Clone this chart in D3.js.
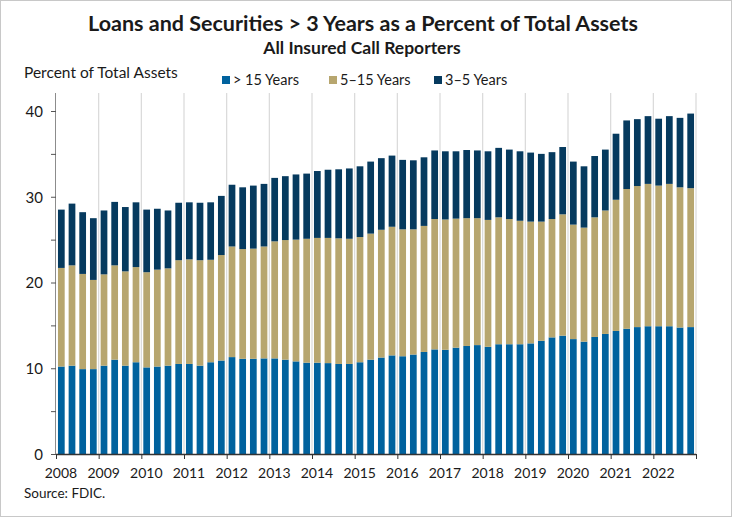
<!DOCTYPE html>
<html>
<head>
<meta charset="utf-8">
<script src="https://cdn.jsdelivr.net/npm/d3@7"></script>
<style>
  html, body { margin: 0; padding: 0; background: #fff; }
  svg { display: block; }
  text { font-family: Lato, "Open Sans", sans-serif; fill: #1a1a1a; }
</style>
</head>
<body>
<svg id="chart" width="732" height="517"></svg>
<script>
// ---------- DATA ----------
const years = ["2008","2009","2010","2011","2012","2013","2014","2015","2016","2017","2018","2019","2020","2021","2022"];
const quarters = years.flatMap(y => ["Q1","Q2","Q3","Q4"].map(q => y + q));

const seriesNames = ["> 15 Years", "5\u201315 Years", "3\u20135 Years"];

const over15 = [10.2,10.3,9.9,9.9, 10.3,11.0,10.3,10.7, 10.1,10.2,10.3,10.5, 10.5,10.3,10.7,10.9,
  11.3,11.1,11.1,11.15, 11.15,11.0,10.8,10.65, 10.65,10.6,10.5,10.5, 10.7,11.0,11.25,11.5,
  11.4,11.6,11.9,12.2, 12.15,12.4,12.6,12.7, 12.5,12.8,12.8,12.8, 12.9,13.2,13.6,13.8,
  13.4,13.1,13.65,14.0, 14.35,14.6,14.8,14.9, 14.9,14.9,14.75,14.8];
const y5to15 = [11.5,11.7,11.1,10.4, 10.65,11.0,11.0,11.1, 11.1,11.3,11.35,12.1, 12.2,12.3,11.95,12.3,
  12.9,12.8,12.85,13.05, 13.65,13.95,14.2,14.45, 14.55,14.6,14.65,14.6, 14.6,14.7,14.9,15.0,
  14.8,14.6,14.7,15.2, 15.2,15.05,14.9,14.8, 14.8,14.8,14.6,14.4, 14.2,13.9,13.8,14.15,
  13.35,13.3,13.95,14.4, 15.3,16.3,16.45,16.6, 16.4,16.6,16.35,16.2];
const y3to5 = [6.8,7.2,7.2,7.2, 7.45,7.4,7.5,7.55, 7.3,7.1,6.75,6.7, 6.65,6.7,6.7,6.9,
  7.2,7.2,7.35,7.3, 7.4,7.45,7.6,7.6, 7.8,7.95,8.05,8.2, 8.25,8.4,8.35,8.3,
  8.1,8.05,8.0,8.0, 7.95,7.85,7.95,7.9, 8.0,8.1,8.1,8.1, 8.05,7.9,7.8,7.85,
  7.35,7.15,7.15,7.1, 7.7,8.0,7.8,7.9, 7.8,7.9,8.1,8.7];

const yTicks = [0, 5, 10, 15, 20, 25, 30, 35, 40];
const yLabels = [0, 10, 20, 30, 40];
const colors = ["#00629e", "#b7a66f", "#063a5e"];

// ---------- LAYOUT ----------
const svg = d3.select("#chart");
const W = 732, H = 517;
const m = { left: 56, right: 36, top: 93, bottom: 63 };
const x0 = m.left, x1 = W - m.right, yBase = H - m.bottom;

// frame
svg.append("rect").attr("x", 0.5).attr("y", 0.5).attr("width", W - 1).attr("height", H - 1)
  .attr("fill", "#fff").attr("stroke", "#c8c8c8");

const x = d3.scaleBand().domain(quarters).range([x0, x1]).paddingInner(0.37).paddingOuter(0.185);
const xYear = d3.scaleLinear().domain([0, years.length]).range([x0, x1]);
const y = d3.scaleLinear().domain([0, 40]).range([yBase, 111]);

// vertical year grid lines
svg.append("g").selectAll("line").data(d3.range(1, years.length + 1)).join("line")
  .attr("x1", d => xYear(d)).attr("x2", d => xYear(d))
  .attr("y1", m.top).attr("y2", yBase)
  .attr("stroke", "#d9d9d9").attr("stroke-width", 1.2);

// stacked bars
const table = quarters.map((q, i) => ({ q, a: over15[i], b: y5to15[i], c: y3to5[i] }));
const stack = d3.stack().keys(["a", "b", "c"])(table);
svg.append("g").selectAll("g").data(stack).join("g")
  .attr("fill", (d, i) => colors[i])
  .selectAll("rect").data(d => d).join("rect")
  .attr("x", d => x(d.data.q)).attr("width", x.bandwidth())
  .attr("y", d => y(d[1])).attr("height", d => y(d[0]) - y(d[1]));

// y axis
const yAxis = svg.append("g").attr("transform", `translate(${x0},0)`)
  .call(d3.axisLeft(y).tickValues(yTicks).tickSize(5).tickFormat(d => yLabels.includes(d) ? d : ""));
yAxis.select(".domain").attr("stroke", "#8c8c8c").attr("d", `M-0.5,${m.top}V${yBase}`);
yAxis.selectAll(".tick line").attr("stroke", "#555");
yAxis.selectAll(".tick text").attr("font-size", 15).attr("font-family", "Lato, sans-serif")
  .attr("fill", "#1a1a1a").attr("x", -13).attr("dy", "0.35em");

// x axis
const xAxis = svg.append("g").attr("transform", `translate(0,${yBase})`)
  .call(d3.axisBottom(xYear).tickValues(d3.range(0, years.length + 1)).tickSize(5).tickFormat(""));
xAxis.select(".domain").attr("stroke", "#333").attr("stroke-width", 1.3).attr("d", `M${x0},0.5H${x1}`);
xAxis.selectAll(".tick line").attr("stroke", "#333");
svg.append("g").selectAll("text").data(years).join("text")
  .attr("x", (d, i) => xYear(i) + 5).attr("y", yBase + 24)
  .attr("text-anchor", "middle").attr("font-size", 14).text(d => d);

// titles
svg.append("text").attr("x", 363).attr("y", 31).attr("text-anchor", "middle")
  .attr("font-size", 21.5).attr("font-weight", "bold")
  .text("Loans and Securities > 3 Years as a Percent of Total Assets");
svg.append("text").attr("x", 362).attr("y", 54).attr("text-anchor", "middle")
  .attr("font-size", 17.5).attr("font-weight", "bold")
  .text("All Insured Call Reporters");
svg.append("text").attr("x", 24).attr("y", 78).attr("font-size", 15.5)
  .text("Percent of Total Assets");
svg.append("text").attr("x", 24).attr("y", 498).attr("font-size", 13.5)
  .text("Source: FDIC.");

// legend
const legX = [222, 329, 434];
const leg = svg.append("g").selectAll("g").data(seriesNames).join("g")
  .attr("transform", (d, i) => `translate(${legX[i]},76)`);
leg.append("rect").attr("x", 0).attr("y", 0).attr("width", 8).attr("height", 8)
  .attr("fill", (d, i) => colors[i]);
leg.append("text").attr("x", 11).attr("y", 8.5).attr("font-size", 14.5).text(d => d);
</script>
</body>
</html>
